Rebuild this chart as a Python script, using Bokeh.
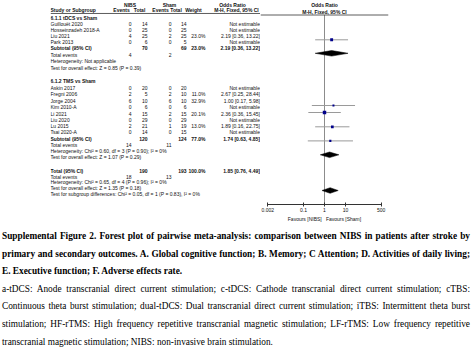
import math
from bokeh.plotting import figure
from bokeh.models import Range1d, Span, LogAxis, FixedTicker, CustomJSTickFormatter, Div
from bokeh.layouts import column, row
from bokeh.core.properties import value
from bokeh.embed import file_html
from bokeh.resources import INLINE

# ---------------- data ----------------
g1_name = "6.1.1 tDCS vs Sham"
g1_study = ["Guillouët 2020", "Hosseinzadeh 2018-A", "Liu 2021", "Park 2013"]
g1_nibs_events = [0, 0, 4, 0]
g1_nibs_total = [14, 25, 25, 6]
g1_sham_events = [0, 0, 2, 0]
g1_sham_total = [14, 25, 25, 5]
g1_weight = [None, None, 23.0, None]
g1_or = [None, None, 2.19, None]
g1_lo = [None, None, 0.36, None]
g1_hi = [None, None, 13.22, None]
g1_subtotal = [70, 69, 23.0, 2.19, 0.36, 13.22]      # nibs total, sham total, weight, OR, lo, hi
g1_events = [4, 2]
g1_het = "Heterogeneity: Not applicable"
g1_test = "Test for overall effect: Z = 0.85 (P = 0.39)"

g2_name = "6.1.2 TMS vs Sham"
g2_study = ["Askin 2017", "Fregni 2006", "Jorge 2004", "Kim 2010-A", "Li 2021",
            "Liu 2020", "Lu 2015", "Tsai 2020-A"]
g2_nibs_events = [0, 2, 6, 0, 4, 0, 2, 0]
g2_nibs_total = [20, 5, 10, 6, 15, 29, 21, 14]
g2_sham_events = [0, 2, 6, 0, 2, 0, 1, 0]
g2_sham_total = [20, 10, 10, 6, 15, 29, 19, 15]
g2_weight = [None, 11.0, 32.9, None, 20.1, None, 13.0, None]
g2_or = [None, 2.67, 1.00, None, 2.36, None, 1.89, None]
g2_lo = [None, 0.25, 0.17, None, 0.36, None, 0.16, None]
g2_hi = [None, 28.44, 5.98, None, 15.45, None, 22.75, None]
g2_subtotal = [120, 124, 77.0, 1.74, 0.63, 4.85]
g2_events = [14, 11]
g2_het = "Heterogeneity: Chi² = 0.60, df = 3 (P = 0.90); I² = 0%"
g2_test = "Test for overall effect: Z = 1.07 (P = 0.29)"

total_values = [190, 193, 100.0, 1.85, 0.76, 4.49]
total_events = [18, 13]
total_het = "Heterogeneity: Chi² = 0.65, df = 4 (P = 0.96); I² = 0%"
total_test = "Test for overall effect: Z = 1.35 (P = 0.18)"
subgroup_test = "Test for subgroup differences: Chi² = 0.05, df = 1 (P = 0.83), I² = 0%"

axis_ticks = [0.002, 0.1, 1, 10, 500]
favours_label = "Favours [NIBS]\u00a0\u00a0\u00a0Favours [Sham]"

caption_lines = [
    "Supplemental Figure 2. Forest plot of pairwise meta-analysis: comparison between NIBS in patients after stroke by",
    "primary and secondary outcomes. A. Global cognitive function; B. Memory; C Attention; D. Activities of daily living;",
    "E. Executive function; F. Adverse effects rate.",
    "a-tDCS: Anode transcranial direct current stimulation; c-tDCS: Cathode transcranial direct current stimulation; cTBS:",
    "Continuous theta burst stimulation; dual-tDCS: Dual transcranial direct current stimulation; iTBS: Intermittent theta burst",
    "stimulation; HF-rTMS: High frequency repetitive transcranial magnetic stimulation; LF-rTMS: Low frequency repetitive",
    "transcranial magnetic stimulation; NIBS: non-invasive brain stimulation.",
]

# ---------------- layout ----------------
FONT = value("Liberation Sans")
FS = "5px"
TXT = "#111111"
X_LABEL = 50
X_NE, X_NT, X_SE, X_ST, X_W, X_CI = 131, 147, 171, 186, 205, 259.5
SPLIT = 260
PLOT_RIGHT = 388
PX_PER_DECADE = 21.0
FIG_H = 228
AXIS_Y = 204

Y_H1, Y_H2, Y_RULE = 4.5, 11.0, 14.5
Y_G1 = [19.5, 26.0, 32.7, 39.3, 46.0, 52.8, 61.0, 68.0, 75.0]
Y_G2 = [90.5, 98.0, 105.0, 112.0, 119.0, 126.3, 133.3, 140.4, 147.4, 154.3, 161.7, 168.3, 174.8]
Y_T = [190.0, 197.0, 203.3, 209.7, 216.0]


def ci_text(o, l, h):
    return f"{o:.2f} [{l:.2f}, {h:.2f}]"


# collect text items: (x, y, text, align, bold)
items = []
def add(x, y, t, align="left", bold=False):
    items.append((x, y, str(t), align, bold))

# header
add(129.5, Y_H1, "NIBS", "center", True)
add(169, Y_H1, "Sham", "center", True)
add(232, Y_H1, "Odds Ratio", "center", True)
add(X_LABEL, Y_H2, "Study or Subgroup", "left", True)
add(121, Y_H2, "Events", "center", True)
add(139, Y_H2, "Total", "center", True)
add(160, Y_H2, "Events", "center", True)
add(175.5, Y_H2, "Total", "center", True)
add(193, Y_H2, "Weight", "center", True)
add(236, Y_H2, "M-H, Fixed, 95% CI", "center", True)

study_marks = []   # (or, lo, hi, weight, y)
diamonds = []      # (or, lo, hi, y)

def add_group(ys, name, study, ne, nt, se, st, w, o, lo, hi, sub, ev, het, test):
    add(X_LABEL, ys[0], name, "left", True)
    n = len(study)
    for i in range(n):
        y = ys[1 + i]
        add(X_LABEL, y, study[i])
        add(X_NE, y, ne[i], "right")
        add(X_NT, y, nt[i], "right")
        add(X_SE, y, se[i], "right")
        add(X_ST, y, st[i], "right")
        if o[i] is None:
            add(X_CI, y, "Not estimable", "right")
        else:
            add(X_W, y, f"{w[i]:.1f}%", "right")
            add(X_CI, y, ci_text(o[i], lo[i], hi[i]), "right")
            study_marks.append((o[i], lo[i], hi[i], w[i], y))
    y = ys[1 + n]
    add(X_LABEL, y, "Subtotal (95% CI)", "left", True)
    add(X_NT, y, sub[0], "right", True)
    add(X_ST, y, sub[1], "right", True)
    add(X_W, y, f"{sub[2]:.1f}%", "right", True)
    add(X_CI, y, ci_text(sub[3], sub[4], sub[5]), "right", True)
    diamonds.append((sub[3], sub[4], sub[5], y))
    y = ys[2 + n]
    add(X_LABEL, y, "Total events")
    add(X_NE, y, ev[0], "right")
    add(X_SE, y, ev[1], "right")
    add(X_LABEL, ys[3 + n], het)
    add(X_LABEL, ys[4 + n], test)

add_group(Y_G1, g1_name, g1_study, g1_nibs_events, g1_nibs_total, g1_sham_events, g1_sham_total,
          g1_weight, g1_or, g1_lo, g1_hi, g1_subtotal, g1_events, g1_het, g1_test)
add_group(Y_G2, g2_name, g2_study, g2_nibs_events, g2_nibs_total, g2_sham_events, g2_sham_total,
          g2_weight, g2_or, g2_lo, g2_hi, g2_subtotal, g2_events, g2_het, g2_test)

y = Y_T[0]
add(X_LABEL, y, "Total (95% CI)", "left", True)
add(X_NT, y, total_values[0], "right", True)
add(X_ST, y, total_values[1], "right", True)
add(X_W, y, f"{total_values[2]:.1f}%", "right", True)
add(X_CI, y, ci_text(total_values[3], total_values[4], total_values[5]), "right", True)
diamonds.append((total_values[3], total_values[4], total_values[5], y))
add(X_LABEL, Y_T[1], "Total events")
add(X_NE, Y_T[1], total_events[0], "right")
add(X_SE, Y_T[1], total_events[1], "right")
add(X_LABEL, Y_T[2], total_het)
add(X_LABEL, Y_T[3], total_test)
add(X_LABEL, Y_T[4], subgroup_test)

# ---------------- left (table) figure ----------------
common = dict(output_backend="svg", toolbar_location=None, x_axis_location=None, y_axis_location=None,
              outline_line_color=None, background_fill_color="white", border_fill_color="white",
              min_border_top=0, min_border_bottom=0)

left = figure(width=SPLIT, height=FIG_H, x_range=Range1d(X_LABEL, SPLIT), y_range=Range1d(FIG_H, 0),
              min_border_left=X_LABEL, min_border_right=0, **common)
left.xgrid.visible = False
left.ygrid.visible = False

for align in ("left", "center", "right"):
    for bold in (False, True):
        sel = [it for it in items if it[3] == align and it[4] == bold]
        if not sel:
            continue
        left.text(x=[s[0] for s in sel], y=[s[1] for s in sel], text=[s[2] for s in sel],
                  text_font=FONT, text_font_size=FS, text_align=align, text_baseline="middle",
                  text_color=TXT, text_font_style="bold" if bold else "normal")

left.add_layout(Span(location=Y_RULE, dimension="width", line_color="#333333", line_width=0.8))

# ---------------- right (graph) figure ----------------
half = (PLOT_RIGHT - SPLIT) / 2 / PX_PER_DECADE
common_r = dict(common)
common_r["min_border_bottom"] = FIG_H - AXIS_Y
right = figure(width=474 - SPLIT, height=FIG_H, x_axis_type="log",
               x_range=Range1d(10 ** -half, 10 ** half), y_range=Range1d(AXIS_Y, 0),
               min_border_left=0, min_border_right=474 - PLOT_RIGHT, **common_r)
right.xgrid.visible = False
right.ygrid.visible = False

right.add_layout(Span(location=Y_RULE, dimension="width", line_color="#333333", line_width=0.8))
right.text(x=[1, 1], y=[Y_H1, Y_H2], text=["Odds Ratio", "M-H, Fixed, 95% CI"],
           text_font=FONT, text_font_size=FS, text_align="center", text_baseline="middle",
           text_color=TXT, text_font_style="bold")

# line of no effect
right.segment(x0=[1], y0=[Y_RULE], x1=[1], y1=[AXIS_Y], line_color="#8c8c8c", line_width=1)

# study CIs and squares
right.segment(x0=[m[1] for m in study_marks], x1=[m[2] for m in study_marks],
              y0=[m[4] for m in study_marks], y1=[m[4] for m in study_marks],
              line_color="#9a9a9a", line_width=1)
right.scatter(x=[m[0] for m in study_marks], y=[m[4] for m in study_marks], marker="square",
              size=[0.6 * math.sqrt(m[3]) for m in study_marks],
              fill_color="#00008b", line_color=None)

# diamonds
hh = 2.8
right.patches(xs=[[d[1], d[0], d[2], d[0]] for d in diamonds],
              ys=[[d[3], d[3] - hh, d[3], d[3] + hh] for d in diamonds],
              fill_color="black", line_color="black", line_width=0.5)

ax = LogAxis(ticker=FixedTicker(ticks=axis_ticks),
             formatter=CustomJSTickFormatter(code="return tick.toString();"),
             bounds=(min(axis_ticks), max(axis_ticks)), axis_label=favours_label)
ax.axis_line_color = "#333333"
ax.major_tick_line_color = "#333333"
ax.major_tick_in = 2
ax.major_tick_out = 2
ax.minor_tick_line_color = None
ax.major_label_text_font = "Liberation Sans"
ax.major_label_text_font_size = FS
ax.major_label_text_color = TXT
ax.major_label_standoff = 1
ax.axis_label_text_font = "Liberation Sans"
ax.axis_label_text_font_size = FS
ax.axis_label_text_font_style = "normal"
ax.axis_label_text_color = TXT
ax.axis_label_standoff = 1
right.add_layout(ax, "below")

# ---------------- caption ----------------
parts = []
for i, line in enumerate(caption_lines):
    last = i in (2, 6)
    al = "left" if last else "justify"
    parts.append(
        f'<div style="white-space:nowrap;text-align:{al};text-align-last:{al};'
        f'font-weight:{"bold" if i < 3 else "normal"};">{line}</div>')
html = ('<div style="font-family:\'Liberation Serif\',\'Times New Roman\',serif;font-size:9.3px;'
        'line-height:17.6px;color:#000;width:470px;padding-left:2px;margin:0;">' + "".join(parts) + "</div>")
caption = Div(text=html, width=474, height=351 - FIG_H, margin=(0, 0, 0, 0))

layout = column(row(left, right, spacing=0), caption, spacing=0)

with open("out.html", "w") as f:
    f.write(file_html(layout, INLINE))
